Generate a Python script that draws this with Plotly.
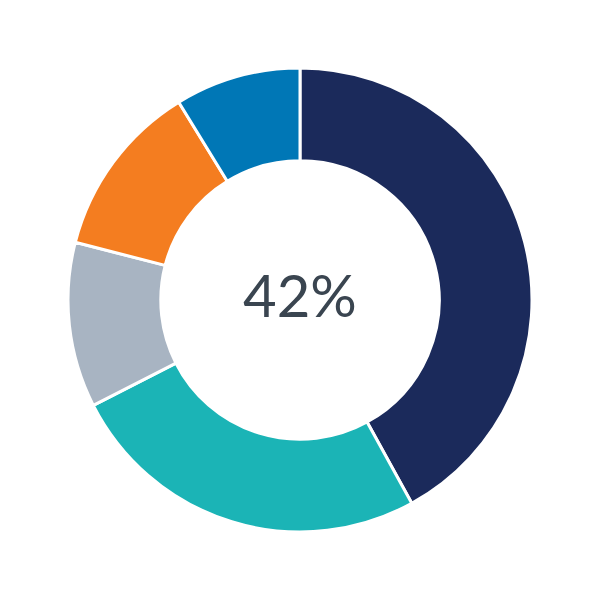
import plotly.graph_objects as go

labels = ["Navy", "Teal", "Gray", "Orange", "Blue"]
values = [42, 25.5, 11.5, 12.25, 8.75]
colors = ["#1b2a5b", "#1bb4b6", "#a8b4c2", "#f47d20", "#0077b6"]
center_text = "42%"

fig = go.Figure(go.Pie(
    labels=labels,
    values=values,
    hole=0.6,
    sort=False,
    direction="clockwise",
    rotation=0,
    marker=dict(colors=colors, line=dict(color="white", width=3)),
    textinfo="none",
    hoverinfo="label+percent",
    showlegend=False,
))

# the page body adds 8px, so the margins are shifted to keep the ring centred
fig.update_layout(
    width=600, height=600,
    margin=dict(l=60, r=76, t=60, b=76),
    paper_bgcolor="white",
    annotations=[dict(text=center_text, x=0.5, y=0.5, xref="paper", yref="paper",
                      showarrow=False, yshift=6,
                      font=dict(family="Lato", size=58, color="#3a4550"))],
)

fig.write_html("out.html")
